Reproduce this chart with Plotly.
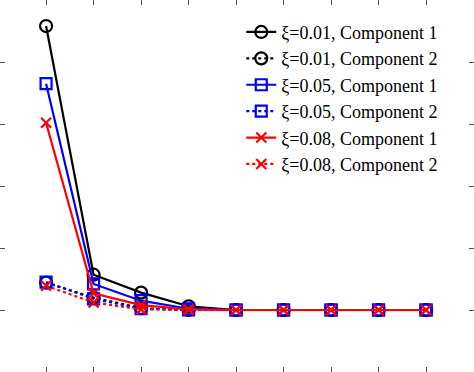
import plotly.graph_objects as go

x = [1, 2, 3, 4, 5, 6, 7, 8, 9]

xi001_c1 = [4.58, 0.57, 0.28, 0.06, 0, 0, 0, 0, 0]
xi001_c2 = [0.44, 0.20, 0.03, 0, 0, 0, 0, 0, 0]
xi005_c1 = [3.65, 0.42, 0.15, 0.02, 0, 0, 0, 0, 0]
xi005_c2 = [0.45, 0.18, 0.02, 0, 0, 0, 0, 0, 0]
xi008_c1 = [3.02, 0.27, 0.08, 0.01, 0, 0, 0, 0, 0]
xi008_c2 = [0.39, 0.12, 0.01, 0, 0, 0, 0, 0, 0]

names = ["ξ=0.01, Component 1", "ξ=0.01, Component 2",
         "ξ=0.05, Component 1", "ξ=0.05, Component 2",
         "ξ=0.08, Component 1", "ξ=0.08, Component 2"]
series = [xi001_c1, xi001_c2, xi005_c1, xi005_c2, xi008_c1, xi008_c2]
colors = ["#000000", "#000000", "#0000ff", "#0000ff", "#ff0000", "#ff0000"]
symbols = ["circle-open", "circle-open", "square-open", "square-open", "x-thin-open", "x-thin-open"]
sizes = [12, 12, 11, 11, 10, 10]
dashes = ["solid", "dot", "solid", "dot", "solid", "dot"]

fig = go.Figure()
for n, s, c, sym, sz, d in zip(names, series, colors, symbols, sizes, dashes):
    fig.add_trace(go.Scatter(
        x=x, y=s, name=n, mode="lines+markers",
        line=dict(color=c, width=2.2, dash=d),
        marker=dict(symbol=sym, size=sz, color=c, line=dict(color=c, width=2.2)),
    ))

axis_common = dict(showgrid=False, zeroline=False, showticklabels=False,
                   ticks="inside", ticklen=5, tickwidth=1, tickcolor="#555555",
                   showline=False, mirror="ticks")
fig.update_layout(
    width=474, height=372,
    margin=dict(l=0, r=0, t=0, b=0),
    plot_bgcolor="white", paper_bgcolor="white",
    font=dict(family="Liberation Serif, Times New Roman, serif", size=18, color="#000000"),
    xaxis=dict(range=[0.03, 10.01], tickmode="array", tickvals=list(range(1, 11)), **axis_common),
    yaxis=dict(range=[-1.0, 5.0], tickmode="array", tickvals=[0, 1, 2, 3, 4], **axis_common),
    legend=dict(x=0.509, y=0.963, xanchor="left", yanchor="top",
                bgcolor="rgba(255,255,255,0)", borderwidth=0,
                tracegroupgap=0, itemwidth=30,
                font=dict(size=18)),
    showlegend=True,
)
fig.write_html("out.html", config={"displayModeBar": False},
               post_script="document.body.style.margin='0';document.body.style.overflow='hidden';")
